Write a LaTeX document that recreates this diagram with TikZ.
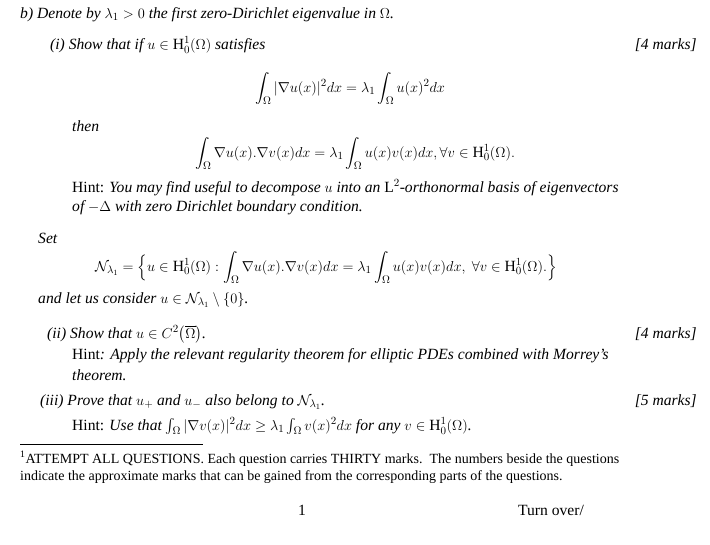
\documentclass[tikz,border=0pt]{standalone}
\usepackage{amsmath}
\usepackage{fontspec}
\setmainfont{Liberation Serif}
\begin{document}
\begin{tikzpicture}[x=1pt,y=-1pt,
  t/.style={anchor=base west,inner sep=0pt,font=\fontsize{15.6}{17}\selectfont\itshape},
  u/.style={anchor=base west,inner sep=0pt,font=\fontsize{15.6}{17}\selectfont},
  m/.style={anchor=base east,inner sep=0pt,font=\fontsize{15.6}{17}\selectfont\itshape},
  f/.style={anchor=base west,inner sep=0pt,font=\fontsize{14}{15}\selectfont}]
\useasboundingbox (0,0) rectangle (710,544);
\newcommand{\Hz}{\mathrm{H}^1_0(\Omega)}
\node[t] (b) at (20,18) {b) Denote by $\lambda_1>0$ the first zero-Dirichlet eigenvalue in $\Omega$.};
\node[t] (i) at (50,49) {(i) Show that if $u\in\Hz$ satisfies};
\node[m] (m1) at (697,49) {[4 marks]};
\node[u,anchor=base] (e1) at (350,92) {$\displaystyle\int_\Omega|\nabla u(x)|^2dx=\lambda_1\int_\Omega u(x)^2dx$};
\node[t] (then) at (72,131) {then};
\node[u,anchor=base] (e2) at (355,157) {$\displaystyle\int_\Omega\nabla u(x).\nabla v(x)dx=\lambda_1\int_\Omega u(x)v(x)dx,\forall v\in\Hz.$};
\node[u] (h1) at (72,192) {Hint: \textit{You may find useful to decompose $u$ into an $\mathrm{L}^2$-orthonormal basis of eigenvectors}};
\node[t] (h1b) at (72,211) {of $-\Delta$ with zero Dirichlet boundary condition.};
\node[t] (set) at (38,243) {Set};
\node[u] (N) at (95,271) {$\displaystyle\mathcal{N}_{\lambda_1}=\Big\{u\in\Hz:\int_\Omega\nabla u(x).\nabla v(x)dx=\lambda_1\int_\Omega u(x)v(x)dx,\ \forall v\in\Hz.\Big\}$};
\node[t] (and) at (38,303) {and let us consider $u\in\mathcal{N}_{\lambda_1}\setminus\{0\}$.};
\node[t] (ii) at (47,338) {(ii) Show that $u\in C^2\big(\overline{\Omega}\big)$.};
\node[m] (m2) at (697,338) {[4 marks]};
\node[u] (h2) at (72,359) {Hint\textit{: Apply the relevant regularity theorem for elliptic PDEs combined with Morrey's}};
\node[t] (h2b) at (72,380) {theorem.};
\node[t] (iii) at (40,405) {(iii) Prove that $u_+$ and $u_-$ also belong to $\mathcal{N}_{\lambda_1}$.};
\node[m] (m3) at (697,405) {[5 marks]};
\node[u] (h3) at (72,430) {Hint: \textit{Use that $\int_\Omega|\nabla v(x)|^2dx\ge\lambda_1\int_\Omega v(x)^2dx$ for any $v\in\Hz$.}};
\draw[line width=0.5pt] (20,444) -- (203,444);
\node[f] (fn1) at (20,463) {\textsuperscript{1}ATTEMPT ALL QUESTIONS. Each question carries THIRTY marks.\ \ The numbers beside the questions};
\node[f] (fn2) at (20,480) {indicate the approximate marks that can be gained from the corresponding parts of the questions.};
\node[u] (pg) at (298,515) {1};
\node[u] (to) at (518,515) {Turn over/};
\end{tikzpicture}
\end{document}
